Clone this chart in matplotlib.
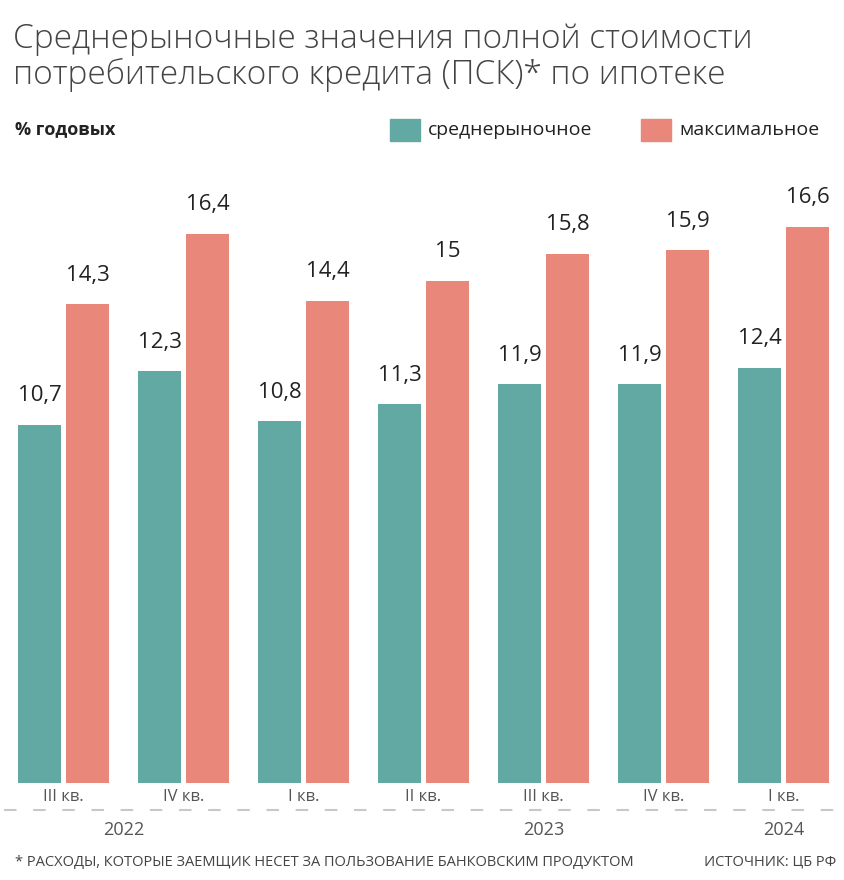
import matplotlib
matplotlib.use("Agg")
import matplotlib.pyplot as plt

quarters = ["III кв.", "IV кв.", "I кв.", "II кв.", "III кв.", "IV кв.", "I кв."]
avg_vals = [10.7, 12.3, 10.8, 11.3, 11.9, 11.9, 12.4]
max_vals = [14.3, 16.4, 14.4, 15.0, 15.8, 15.9, 16.6]
years = ["2022", "2023", "2024"]
year_centers = [0.5, 4.0, 6.0]

TEAL = "#62a9a3"
RED = "#e8877a"
FONT = "Open Sans"
plt.rcParams["font.family"] = FONT

fig = plt.figure(figsize=(8.45, 8.8), dpi=100)
ax = fig.add_axes([0, 97/880, 1, 603/880])
ax.set_xlim(-63.5/120, (845-63.5)/120)
ax.set_ylim(0, 603/33.5)
ax.axis("off")

x = list(range(len(quarters)))
w = 0.36
ax.bar([i-0.2 for i in x], avg_vals, w, color=TEAL)
ax.bar([i+0.2 for i in x], max_vals, w, color=RED)
def fmt(v):
    return (("%g" % v)).replace(".", ",")
for i in x:
    ax.text(i-0.2, avg_vals[i]+0.55, fmt(avg_vals[i]), ha="center", va="bottom", fontsize=16, color="#222")
    ax.text(i+0.2, max_vals[i]+0.55, fmt(max_vals[i]), ha="center", va="bottom", fontsize=16, color="#222")
    ax.text(i, -0.42, quarters[i], ha="center", va="center", fontsize=12, color="#555", clip_on=False)

# dashed separator
ax.plot([-0.5, 6.5], [-0.8, -0.8], ls=(0, (6, 8)), color="#c8c8c8", lw=1.5, clip_on=False)
for yr, c in zip(years, year_centers):
    ax.text(c, -1.4, yr, ha="center", va="center", fontsize=13, color="#555", clip_on=False)

fig.text(0.015, 0.975, "Среднерыночные значения полной стоимости\nпотребительского кредита (ПСК)* по ипотеке",
         ha="left", va="top", fontsize=24, color="#444", fontweight="light", linespacing=1.1)
fig.text(0.018, 0.853, "% годовых", ha="left", va="center", fontsize=13, color="#222", fontweight="bold")
fig.patches.append(plt.Rectangle((390/845, 1-141/880), 30/845, 22/880, color=TEAL, transform=fig.transFigure))
fig.text(428/845, 1-130/880, "среднерыночное", ha="left", va="center", fontsize=14, color="#222")
fig.patches.append(plt.Rectangle((641/845, 1-141/880), 30/845, 22/880, color=RED, transform=fig.transFigure))
fig.text(679/845, 1-130/880, "максимальное", ha="left", va="center", fontsize=14, color="#222")

fig.text(0.018, 1-862/880, "* РАСХОДЫ, КОТОРЫЕ ЗАЕМЩИК НЕСЕТ ЗА ПОЛЬЗОВАНИЕ БАНКОВСКИМ ПРОДУКТОМ",
         ha="left", va="center", fontsize=10.5, color="#444")
fig.text(0.99, 1-862/880, "ИСТОЧНИК: ЦБ РФ", ha="right", va="center", fontsize=10.5, color="#444")

fig.savefig("out.png", dpi=100, facecolor="white")
